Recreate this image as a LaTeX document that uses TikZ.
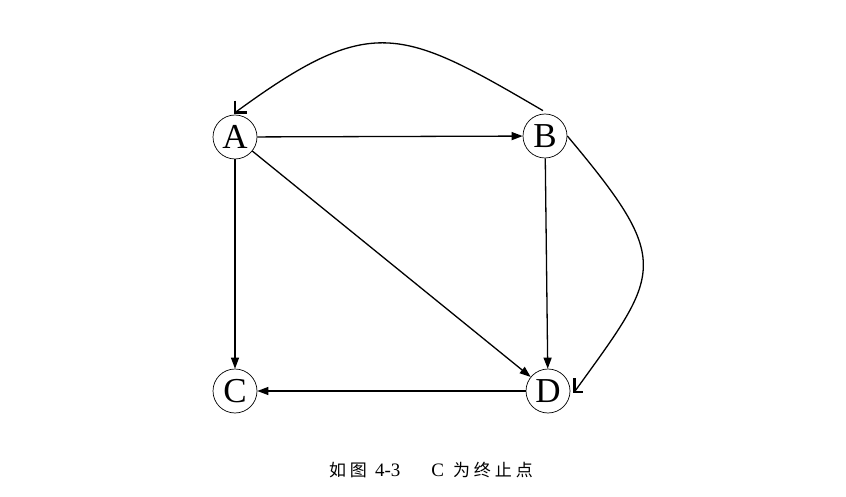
\documentclass[tikz,border=0pt]{standalone}
\usepackage{fontspec}
\setmainfont{Liberation Serif}
\newfontfamily\cjk{Noto Sans CJK SC}
\usetikzlibrary{arrows.meta}
\begin{document}
\begin{tikzpicture}[x=1pt,y=-1pt,
  vert/.style={draw, circle, line width=0.7pt, minimum size=44pt, inner sep=0pt, font=\fontsize{35}{35}\selectfont},
  edge/.style={line width=1.3pt, -{Triangle[length=11pt,width=8pt]}},
  curve/.style={line width=1.3pt},
  ltip/.style={line width=2.6pt}]
\useasboundingbox (0,0) rectangle (846,497);
\node[vert] (A) at (235,137) {A};
\node[vert] (B) at (545,136) {B};
\node[vert] (C) at (235,391) {C};
\node[vert] (D) at (548,391) {D};
\draw[edge] (A) -- (B);
\draw[edge] (A) -- (C);
\draw[edge] (A) -- (D);
\draw[edge] (B) -- (D);
\draw[edge] (D) -- (C);
\coordinate (ta) at ([yshift=2pt]A.north);
\coordinate (td) at ([xshift=4pt,yshift=-1pt]D.east);
\draw[curve] ([xshift=-2pt,yshift=3pt]B.north) .. controls (400,27) and (371,13) .. (ta);
\draw[curve] (B.east) .. controls (674,263) and (661,272) .. (td);
\draw[ltip] ([yshift=12pt]ta) -- (ta) -- ++(12,0);
\draw[ltip] ([yshift=14pt]td) -- (td) -- ++(9,0);
\node (cap) at (431,470) {\fontsize{17}{17}\selectfont\cjk 如\hspace{4pt}图\hspace{8pt}{\rmfamily\fontsize{19}{19}\selectfont 4-3}\hspace{31pt}{\rmfamily\fontsize{19}{19}\selectfont C}\hspace{9pt}为\hspace{4pt}终\hspace{4pt}止\hspace{4pt}点};
\end{tikzpicture}
\end{document}
